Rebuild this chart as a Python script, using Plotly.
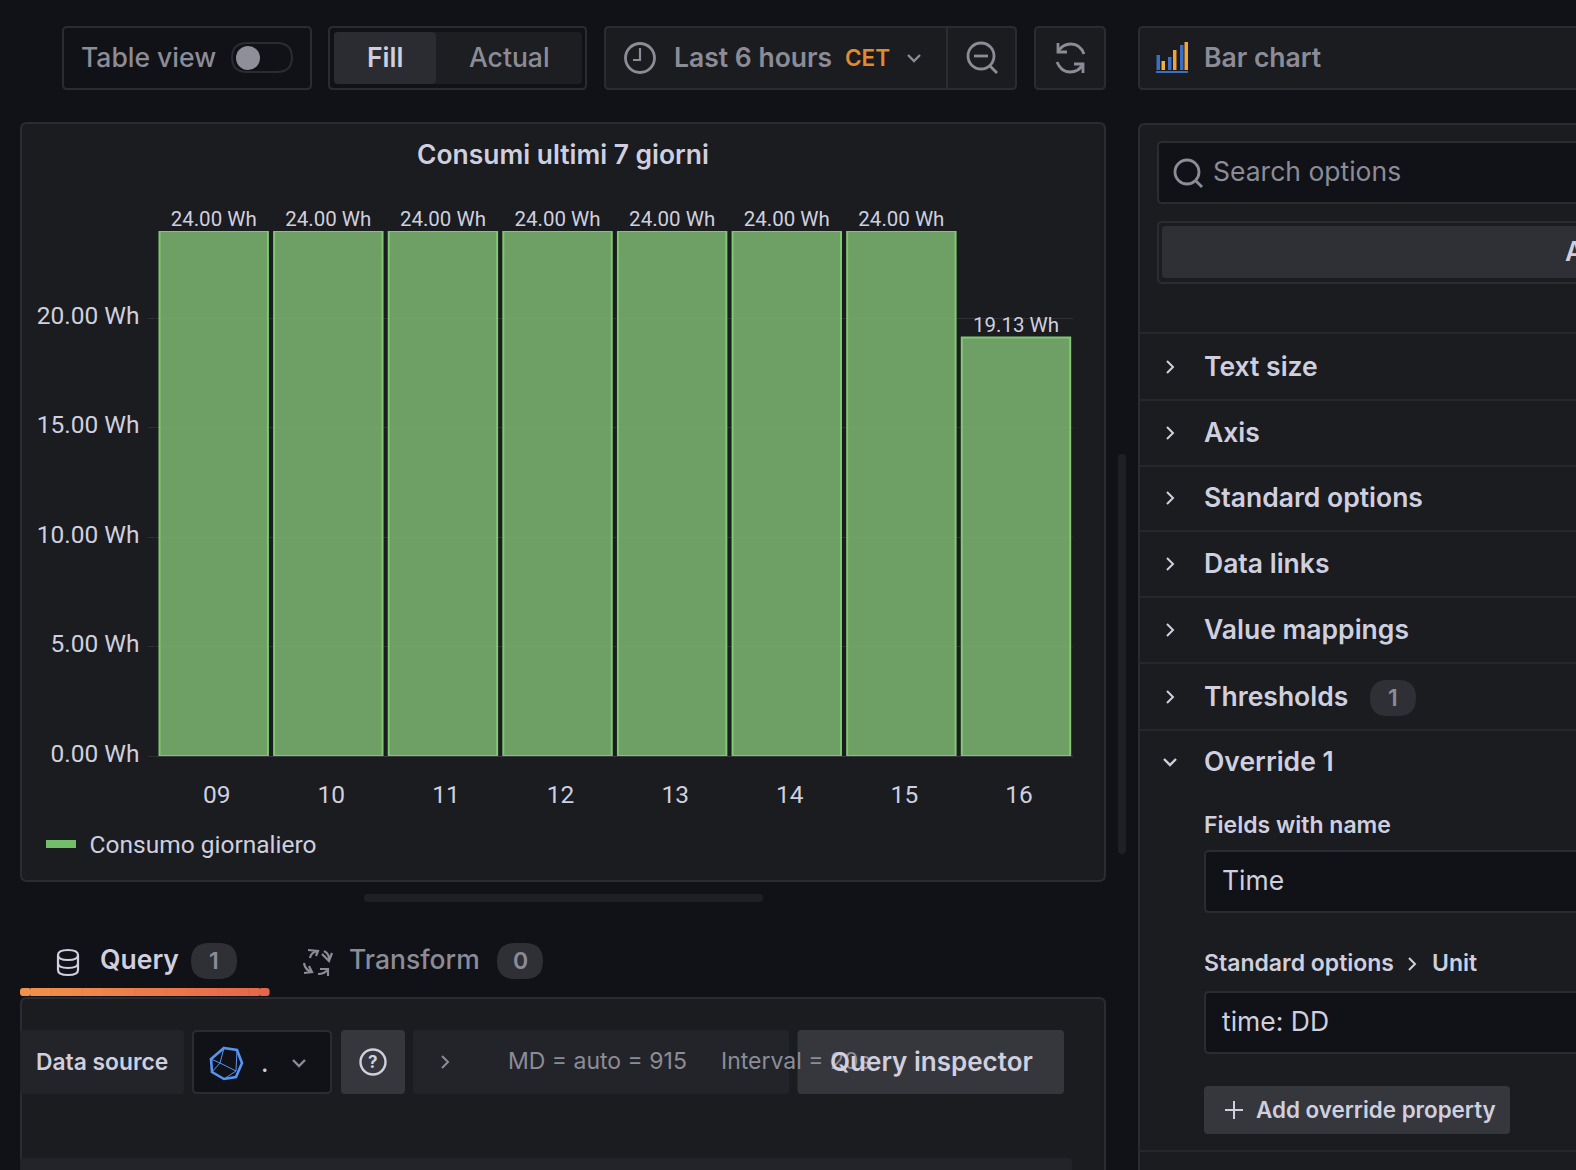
import plotly.graph_objects as go

W, H = 1576, 1170

days = ["09", "10", "11", "12", "13", "14", "15", "16"]
consumo_wh = [24.0, 24.0, 24.0, 24.0, 24.0, 24.0, 24.0, 19.13]
options_rows = ["Text size", "Axis", "Standard options", "Data links", "Value mappings", "Thresholds", "Override 1"]
options_text_y = [367, 433, 498, 564, 630, 697, 762]
options_div_y = [333, 400, 466, 531, 597, 663, 730, 1151]

BG = "#111217"
PANEL = "#1a1c20"
EDGE = "#2a2c31"
CANVAS = "#111217"
BTN = "#36373d"
DIM = "#22242a"
TEXT = "#cfcfdf"
MUTED = "#8c8c97"
FONT = "Inter"
CHART_FONT = "Roboto"
GREEN = "#73BF69"
BLUE = "#5794F2"

shapes = []
notes = []


def _paper(d):
    out, is_x = [], True
    for tok in d.split():
        if tok.isalpha():
            out.append(tok)
            is_x = True
        else:
            val = float(tok)
            out.append(f"{val / W:.6f}" if is_x else f"{1 - val / H:.6f}")
            is_x = not is_x
    return " ".join(out)


def path(d, color=MUTED, width=2.8, fill=None):
    shapes.append(dict(type="path", xref="paper", yref="paper", layer="below", path=_paper(d),
                       line=dict(color=color, width=width), fillcolor=fill))


def box(x0, y0, x1, y1, fill=None, line=None, r=4, width=2):
    if line:
        # outline sits inside the measured outer edge
        x0, y0, x1, y1 = x0 + 1, y0 + 1, x1 - 1, y1 - 1
    d = (f"M {x0 + r} {y0} L {x1 - r} {y0} Q {x1} {y0} {x1} {y0 + r} L {x1} {y1 - r} Q {x1} {y1} {x1 - r} {y1} "
         f"L {x0 + r} {y1} Q {x0} {y1} {x0} {y1 - r} L {x0} {y0 + r} Q {x0} {y0} {x0 + r} {y0} Z")
    shapes.append(dict(type="path", xref="paper", yref="paper", layer="below", path=_paper(d),
                       fillcolor=fill or "rgba(0,0,0,0)",
                       line=dict(color=line or "rgba(0,0,0,0)", width=width if line else 0)))


def circle(cx, cy, r, color=MUTED, width=2.8, fill=None):
    shapes.append(dict(type="circle", xref="paper", yref="paper", layer="below",
                       x0=(cx - r) / W, x1=(cx + r) / W, y0=1 - (cy + r) / H, y1=1 - (cy - r) / H,
                       line=dict(color=color, width=width), fillcolor=fill))


def txt(x, y, s, size=26.5, color=TEXT, weight=400, anchor="left"):
    notes.append(dict(xref="paper", yref="paper", x=x / W, y=1 - (y - 1) / H, text=s, showarrow=False,
                      xanchor=anchor, yanchor="middle", borderpad=0, borderwidth=0,
                      font=dict(family=FONT, size=size, color=color, weight=weight)))


def chevron_right(cx, cy, color=TEXT):
    path(f"M {cx - 3} {cy - 6} L {cx + 3} {cy} L {cx - 3} {cy + 6}", color=color, width=2)


def chevron_down(cx, cy, color=MUTED):
    path(f"M {cx - 6} {cy - 3} L {cx} {cy + 3} L {cx + 6} {cy - 3}", color=color, width=2.4)


# toolbar
box(62, 26, 312, 90, line=EDGE)
txt(81, 58, "Table view", color=MUTED, weight=500)
box(231, 42, 293, 73, fill=CANVAS, line=EDGE, r=15)
circle(248, 58, 12, color="#8f8f9a", width=0, fill="#8f8f9a")
box(328, 26, 587, 90, line=EDGE)
box(334, 32, 582, 84, fill="#1c1e22")
box(334, 32, 436, 84, fill="#2a2c32")
txt(385, 58, "Fill", color=TEXT, weight=600, anchor="center")
txt(469, 58, "Actual", color=MUTED, weight=500)

box(604, 26, 1017, 90, fill=PANEL, line=EDGE)
path("M 947 27 L 947 88", color=EDGE, width=2)
circle(640, 58, 14.5)
path("M 640 48 L 640 60 L 633 60", width=2.2)
txt(674, 58, "Last 6 hours", color=MUTED, weight=600)
txt(845, 58, "CET", size=22.5, color="#e08a33", weight=600)
chevron_down(914, 58)
circle(981, 56, 13)
path("M 974 56 L 988 56")
path("M 990 66 L 997 73")
box(1034, 26, 1106, 90, fill=PANEL, line=EDGE)
path("M 1058 52 Q 1062 44 1071 44 Q 1080 44 1084 54")
path("M 1058 43 L 1058 52 L 1067 52")
path("M 1083 64 Q 1079 72 1070 72 Q 1061 72 1057 62")
path("M 1083 73 L 1083 64 L 1074 64")
box(1138, 26, 1610, 90, fill=PANEL, line=EDGE)
for x0, x1, top, col in [(1156.5, 1160, 55, "#3b6fc4"), (1161.5, 1165, 61, "#f2b13c"), (1168, 1171.5, 57, "#3b6fc4"),
                         (1173, 1176.5, 50, "#f0a33c"), (1180, 1183.5, 45, "#3b6fc4"), (1184.5, 1188, 42, "#f2a53c")]:
    box(x0, top, x1, 70, fill=col, r=0)
box(1156, 71, 1188, 73, fill="#3b6fc4", r=0)
txt(1204, 58, "Bar chart", color=MUTED, weight=600)

# chart panel
box(20, 122, 1106, 882, fill=PANEL, line=EDGE, r=6)
box(364, 894, 763, 902, fill="#1e2024", r=4)

# query tabs
path("M 58 955 Q 58 950 68 950 Q 78 950 78 955 L 78 970 Q 78 975 68 975 Q 58 975 58 970 Z", color=TEXT, width=2.2)
path("M 58 955 Q 58 960 68 960 Q 78 960 78 955", color=TEXT, width=2)
path("M 58 963 Q 58 968 68 968 Q 78 968 78 963", color=TEXT, width=2)
txt(100, 960, "Query", color=TEXT, weight=600)
box(191, 943, 237, 979, fill="#2f3036", r=18)
txt(214, 962, "1", size=23, color=MUTED, weight=600, anchor="center")
path("M 310 958 Q 311 952 318 951 M 308 950 L 318 951 L 316 956", width=2.2)
path("M 324 951 Q 330 954 329 961 M 322 954 L 329 961 L 332 953", width=2.2)
path("M 304 963 Q 305 970 312 972 M 304 973 L 312 972 L 309 966", width=2.2)
path("M 318 974 Q 325 974 328 969 M 320 969 L 328 969 L 328 976", width=2.2)
txt(349, 960, "Transform", color=MUTED, weight=500)
box(497, 943, 543, 979, fill="#2f3036", r=18)
txt(520, 962, "0", size=23, color=MUTED, weight=600, anchor="center")
# the tab underline fades from orange to red
steps = 24
for i in range(steps):
    t = i / (steps - 1)
    col = f"rgb({242 - 13 * t:.0f},{146 - 43 * t:.0f},74)"
    step = (269 - 20) / steps
    box(20 + i * step, 988, 20 + (i + 1) * step + 0.6, 996, fill=col, r=0 if 0 < i < steps - 1 else 3)

# query editor
box(20, 997, 1106, 1200, fill=PANEL, line=EDGE, r=6)
box(20, 1030, 184, 1094, fill=DIM)
txt(102, 1062, "Data source", size=22.8, color=TEXT, weight=600, anchor="center")
box(192, 1030, 332, 1094, fill=CANVAS, line=EDGE)
path("M 224 1048 L 237 1050 L 242 1063 L 236 1077 L 224 1079 L 212 1072 L 211 1059 Z", color=BLUE, width=2.6)
path("M 224 1048 L 220 1063 L 236 1071 L 237 1050 M 220 1063 L 212 1072 M 220 1063 L 211 1059 M 236 1071 L 224 1079",
     color=BLUE, width=1)
txt(265, 1063, ".", size=26, color=TEXT, anchor="center")
chevron_down(299, 1063)
box(341, 1030, 405, 1094, fill=BTN)
circle(373, 1062, 12.5, color=TEXT, width=2.4)
txt(373, 1063, "?", size=17, color=TEXT, weight=700, anchor="center")
box(413, 1030, 789, 1094, fill=DIM)
chevron_right(445, 1062, color=MUTED)
txt(508, 1062, "MD = auto = 915", size=23, color=MUTED)
box(797.5, 1030, 1064, 1094, fill=BTN)
txt(720.5, 1062, "Interval = 20s", size=23, color=MUTED)
txt(830, 1062, "Query inspector", size=26, color=TEXT, weight=600)
box(20, 1158, 1072, 1200, fill=DIM)

# options pane
box(1138, 123, 1610, 1210, fill=PANEL, line=EDGE, r=6)
box(1118, 454, 1126, 854, fill="#1e2024", r=4)
box(1157, 141, 1610, 204, fill=CANVAS, line=EDGE)
circle(1187, 172, 12)
path("M 1196 181 L 1202 187")
txt(1213, 172, "Search options", color=MUTED)
box(1157, 221, 1610, 284, line=EDGE)
box(1162, 226, 1610, 278, fill="#2f3035")
txt(1565, 252, "All", color=TEXT, weight=600)
for y in options_div_y:
    path(f"M 1139 {y} L 1576 {y}", color="#26282d", width=2)
for label, y in zip(options_rows, options_text_y):
    txt(1204, y, label, color=TEXT, weight=600)
    if label == "Override 1":
        chevron_down(1170, y, color=TEXT)
    else:
        chevron_right(1170, y)
box(1370, 680, 1416, 716, fill="#2f3036", r=18)
txt(1393, 699, "1", size=23, color=MUTED, weight=600, anchor="center")
txt(1204, 826, "Fields with name", size=23, color=TEXT, weight=600)
box(1204, 850, 1610, 913, fill=CANVAS, line=EDGE)
txt(1222, 881, "Time")
txt(1204, 964, "Standard options", size=23, color=TEXT, weight=600)
chevron_right(1412, 964)
txt(1432, 964, "Unit", size=23, color=TEXT, weight=600)
box(1204, 991, 1610, 1054, fill=CANVAS, line=EDGE)
txt(1222, 1022, "time: DD")
box(1204, 1086, 1510, 1134, fill=BTN)
path("M 1225 1110 L 1243 1110 M 1234 1101 L 1234 1119", color=TEXT, width=2)
txt(1256, 1110, "Add override property", size=22.4, color=TEXT, weight=600)

fig = go.Figure()
fig.add_bar(x=days, y=consumo_wh, showlegend=False,
            marker=dict(color="rgba(126,182,113,0.85)", line=dict(color="#80c872", width=2)))
fig.add_scatter(x=days, y=consumo_wh, mode="text", showlegend=False, cliponaxis=False,
                texttemplate="%{y:.2f} Wh", textposition="top center",
                textfont=dict(family=CHART_FONT, size=20.5, color=TEXT))
fig.add_scatter(x=[days[0]], y=[None], mode="lines", name="\u00a0\u200aConsumo giornaliero",
                line=dict(color=GREEN, width=8))

fig.update_xaxes(type="category", domain=[156.4 / W, 1073.3 / W], showgrid=False, zeroline=False,
                 showline=False, ticks="", ticklabelstandoff=21, ticklabelshift=3, automargin=False,
                 tickfont=dict(family=CHART_FONT, size=24.5, color=TEXT))
fig.update_yaxes(domain=[1 - 756 / H, 1 - 231 / H], range=[0, 24], tick0=0, dtick=5, tickformat=".2f",
                 ticksuffix=" Wh", ticks="outside", ticklen=7, tickcolor="#2f3136", ticklabelstandoff=4,
                 ticklabelshift=-3, gridcolor="rgba(240,250,255,0.09)", zeroline=True, zerolinecolor="#3a3c42",
                 zerolinewidth=1, showline=False, automargin=False,
                 tickfont=dict(family=CHART_FONT, size=24.5, color=TEXT))
fig.update_layout(width=W, height=H, autosize=False, margin=dict(l=0, r=0, t=0, b=0, pad=0, autoexpand=False),
                  paper_bgcolor=BG, plot_bgcolor="rgba(0,0,0,0)", bargap=0.054, shapes=shapes, annotations=notes,
                  title=dict(text="Consumi ultimi 7 giorni", x=563 / W, y=1 - 155 / H, xanchor="center",
                             yanchor="middle", font=dict(family=FONT, size=26.4, color=TEXT, weight=600)),
                  legend=dict(x=41 / W, y=1 - 844 / H, xanchor="left", yanchor="middle", itemwidth=30,
                              bgcolor="rgba(0,0,0,0)", font=dict(family=CHART_FONT, size=24.5, color=TEXT)))

fig.write_html("out.html", config={"displayModeBar": False},
               post_script=f"document.body.style.margin='0';document.body.style.background='{BG}';"
                           "document.documentElement.style.overflow='hidden';")
